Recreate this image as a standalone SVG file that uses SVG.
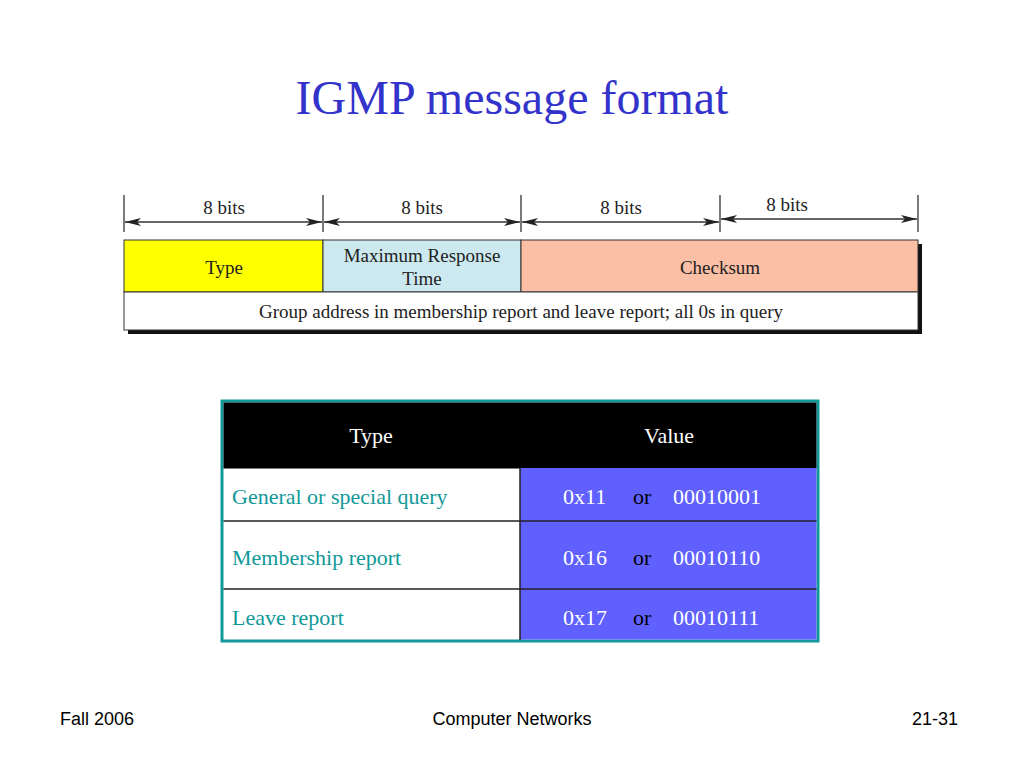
<svg xmlns="http://www.w3.org/2000/svg" width="1024" height="768" viewBox="0 0 1024 768">
<style>
.s{font-family:"Liberation Serif",serif}
.f{font-family:"Liberation Sans",sans-serif;font-size:18px}
.b{font-size:19px;fill:#222}
.ln{stroke:#333;stroke-width:1.3}
.t{font-size:22px;fill:#119999}
.w{font-size:22px;fill:#fff}
</style>
<defs>
<marker id="a" markerWidth="16" markerHeight="8" refX="16" refY="4" orient="auto-start-reverse" markerUnits="userSpaceOnUse"><path d="M0,0 L16,4 L0,8 L4,4 Z" fill="#222"/></marker>
</defs>
<rect width="1024" height="768" fill="#fff"/>
<text class="s" x="512" y="114" text-anchor="middle" font-size="48" fill="#3333cc">IGMP message format</text>
<g id="connectors">
<line class="ln" x1="124" y1="195" x2="124" y2="232"/>
<line class="ln" x1="323" y1="195" x2="323" y2="232"/>
<line class="ln" x1="521" y1="195" x2="521" y2="232"/>
<line class="ln" x1="720" y1="195" x2="720" y2="232"/>
<line class="ln" x1="918" y1="195" x2="918" y2="232"/>
<line class="ln" x1="125" y1="222" x2="322" y2="222" marker-start="url(#a)" marker-end="url(#a)"/>
<line class="ln" x1="324" y1="222" x2="520" y2="222" marker-start="url(#a)" marker-end="url(#a)"/>
<line class="ln" x1="522" y1="222" x2="719" y2="222" marker-start="url(#a)" marker-end="url(#a)"/>
<line class="ln" x1="721" y1="219" x2="917" y2="219" marker-start="url(#a)" marker-end="url(#a)"/>
</g>
<g class="s b">
<text x="224" y="214" text-anchor="middle">8 bits</text>
<text x="422" y="214" text-anchor="middle">8 bits</text>
<text x="621" y="214" text-anchor="middle">8 bits</text>
<text x="787" y="211" text-anchor="middle">8 bits</text>
</g>
<g id="format">
<rect x="128" y="244" width="794" height="90" fill="#111"/>
<rect x="124" y="240" width="199" height="52" fill="#ffff00" stroke="#333"/>
<rect x="323" y="240" width="198" height="52" fill="#cce9f0" stroke="#333"/>
<rect x="521" y="240" width="397" height="52" fill="#fbbfa5" stroke="#333"/>
<rect x="124" y="292" width="794" height="38" fill="#fff" stroke="#333"/>
<g class="s b" text-anchor="middle">
<text x="224" y="274">Type</text>
<text x="422" y="262">Maximum Response</text>
<text x="422" y="285">Time</text>
<text x="720" y="274">Checksum</text>
<text x="521" y="318">Group address in membership report and leave report; all 0s in query</text>
</g>
</g>
<g id="table">
<rect x="222" y="401" width="596" height="240" fill="#fff" stroke="#119999" stroke-width="3"/>
<rect x="223.5" y="402.5" width="593" height="66" fill="#000"/>
<rect x="520" y="468" width="296.5" height="171.5" fill="#6060ff"/>
<line x1="223.5" y1="521" x2="816.5" y2="521" stroke="#222" stroke-width="1.5"/>
<line x1="223.5" y1="589" x2="816.5" y2="589" stroke="#222" stroke-width="1.5"/>
<line x1="520" y1="468" x2="520" y2="640" stroke="#222" stroke-width="1.5"/>
<g class="s">
<text class="w" x="371" y="443" text-anchor="middle">Type</text>
<text class="w" x="669" y="443" text-anchor="middle">Value</text>
<text class="t" x="232" y="504">General or special query</text>
<text class="t" x="232" y="565">Membership report</text>
<text class="t" x="232" y="625">Leave report</text>
<text class="w" x="563" y="504">0x11</text><text x="633" y="504" font-size="22" fill="#000">or</text><text class="w" x="673" y="504">00010001</text>
<text class="w" x="563" y="565">0x16</text><text x="633" y="565" font-size="22" fill="#000">or</text><text class="w" x="673" y="565">00010110</text>
<text class="w" x="563" y="625">0x17</text><text x="633" y="625" font-size="22" fill="#000">or</text><text class="w" x="673" y="625">00010111</text>
</g>
</g>
<text class="f" x="60" y="725">Fall 2006</text>
<text class="f" x="512" y="725" text-anchor="middle">Computer Networks</text>
<text class="f" x="958" y="725" text-anchor="end">21-31</text>
</svg>
